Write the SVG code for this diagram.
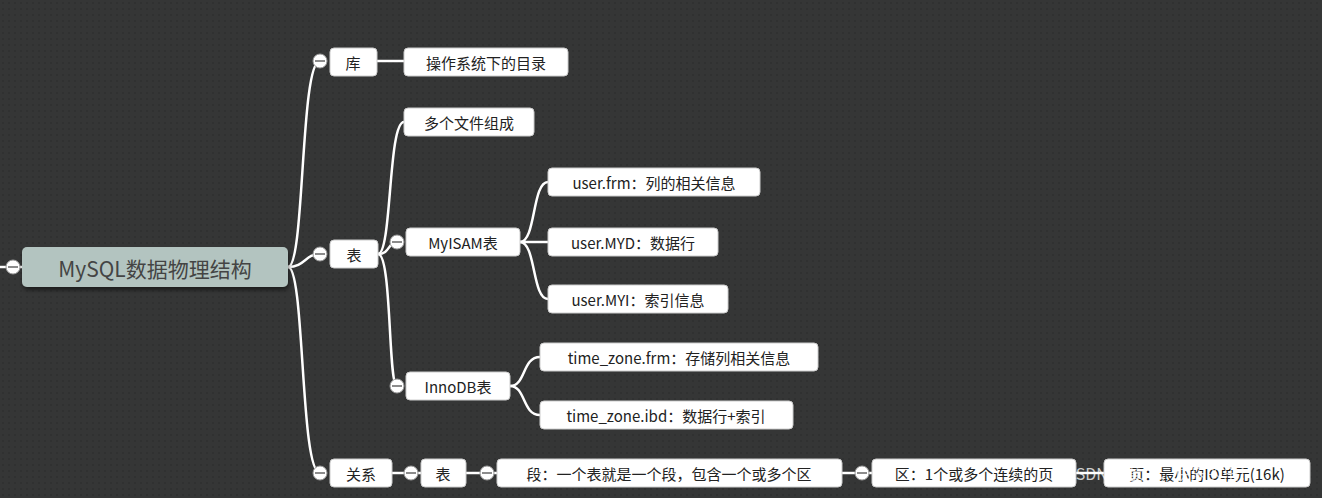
<svg xmlns="http://www.w3.org/2000/svg" width="1322" height="498" viewBox="0 0 1322 498">
<defs>
<pattern id="dots" width="6" height="6" patternUnits="userSpaceOnUse"><rect width="6" height="6" fill="#353636"/><circle cx="3" cy="3" r="0.8" fill="#2a2a2a"/></pattern>
<filter id="sh" x="-10%" y="-20%" width="120%" height="150%"><feDropShadow dx="1" dy="3" stdDeviation="2" flood-color="#000" flood-opacity="0.5"/></filter>
</defs>
<style>
.n{fill:#fff;stroke:#ccc;stroke-width:1}
.t{font-family:"Noto Sans CJK SC","Noto Sans",sans-serif;font-size:15px;fill:#222;dominant-baseline:central}
.c path{fill:none;stroke:#fff;stroke-width:2.5}
.k circle{fill:#fff;stroke:#999;stroke-width:1}
.k line{stroke:#666;stroke-width:1.5}
</style>
<rect width="1322" height="498" fill="url(#dots)"/>
<g class="c">
<path d="M0 267 H22"/>
<path d="M288 267 C305 267 300 61 320 61"/>
<path d="M288 267 C305 267 305 254 320 254"/>
<path d="M288 267 C305 267 300 473 320 473"/>
<path d="M377 61 H404"/>
<path d="M378 254 C392 254 388 122 404 122"/>
<path d="M378 254 C390 254 388 242 397 242"/>
<path d="M378 254 C392 254 388 386 397 386"/>
<path d="M520 242 C536 242 532 182 548 182"/>
<path d="M520 242 H548"/>
<path d="M520 242 C536 242 532 299 548 299"/>
<path d="M510 386 C526 386 522 357 540 357"/>
<path d="M510 386 C526 386 522 415 540 415"/>
<path d="M392 473 H421"/>
<path d="M466 473 H497"/>
<path d="M842 473 H872"/>
<path d="M1076 473 H1104"/>
</g>
<g id="root"><rect x="22" y="247" width="266" height="40" rx="5" fill="#b3c4c0" filter="url(#sh)"/><text x="155" y="268" text-anchor="middle" style="font-family:'Noto Sans CJK SC',sans-serif;font-size:21px;fill:#444;dominant-baseline:central">MySQL数据物理结构</text></g>
<g id="ku"><rect class="n" x="330" y="48" width="47" height="28" rx="4"/><text class="t" x="353" y="62" text-anchor="middle">库</text></g>
<g id="mulu"><rect class="n" x="404" y="48" width="164" height="28" rx="4"/><text class="t" x="486" y="62" text-anchor="middle">操作系统下的目录</text></g>
<g id="biao"><rect class="n" x="330" y="240" width="48" height="28" rx="4"/><text class="t" x="354" y="254" text-anchor="middle">表</text></g>
<g id="duoge"><rect class="n" x="404" y="108" width="130" height="28" rx="4"/><text class="t" x="469" y="122" text-anchor="middle">多个文件组成</text></g>
<g id="myisam"><rect class="n" x="406" y="228" width="114" height="28" rx="4"/><text class="t" x="463" y="242" text-anchor="middle">MyISAM表</text></g>
<g id="frm"><rect class="n" x="548" y="168" width="212" height="28" rx="4"/><text class="t" x="654" y="182" text-anchor="middle">user.frm：列的相关信息</text></g>
<g id="myd"><rect class="n" x="548" y="228" width="170" height="28" rx="4"/><text class="t" x="633" y="242" text-anchor="middle">user.MYD：数据行</text></g>
<g id="myi"><rect class="n" x="548" y="285" width="180" height="28" rx="4"/><text class="t" x="638" y="299" text-anchor="middle">user.MYI：索引信息</text></g>
<g id="innodb"><rect class="n" x="406" y="372" width="104" height="28" rx="4"/><text class="t" x="458" y="386" text-anchor="middle">InnoDB表</text></g>
<g id="tzfrm"><rect class="n" x="540" y="343" width="278" height="28" rx="4"/><text class="t" x="679" y="357" text-anchor="middle">time_zone.frm：存储列相关信息</text></g>
<g id="tzibd"><rect class="n" x="540" y="401" width="253" height="28" rx="4"/><text class="t" x="666" y="415" text-anchor="middle">time_zone.ibd：数据行+索引</text></g>
<g id="guanxi"><rect class="n" x="330" y="459" width="62" height="28" rx="4"/><text class="t" x="361" y="473" text-anchor="middle">关系</text></g>
<g id="biao2"><rect class="n" x="421" y="459" width="45" height="28" rx="4"/><text class="t" x="443" y="473" text-anchor="middle">表</text></g>
<g id="duan"><rect class="n" x="497" y="459" width="345" height="28" rx="4"/><text class="t" x="669" y="473" text-anchor="middle">段：一个表就是一个段，包含一个或多个区</text></g>
<g id="qu"><rect class="n" x="872" y="459" width="204" height="28" rx="4"/><text class="t" x="974" y="473" text-anchor="middle">区：1个或多个连续的页</text></g>
<g id="ye"><rect class="n" x="1104" y="459" width="206" height="28" rx="4"/><text class="t" x="1207" y="473" text-anchor="middle">页：最小的IO单元(16k)</text></g>
<g class="k">
<circle cx="13" cy="267" r="7"/><line x1="8" y1="267" x2="18" y2="267"/>
<circle cx="320" cy="61" r="7"/><line x1="315" y1="61" x2="325" y2="61"/>
<circle cx="320" cy="254" r="7"/><line x1="315" y1="254" x2="325" y2="254"/>
<circle cx="320" cy="473" r="7"/><line x1="315" y1="473" x2="325" y2="473"/>
<circle cx="397" cy="242" r="7"/><line x1="392" y1="242" x2="402" y2="242"/>
<circle cx="397" cy="386" r="7"/><line x1="392" y1="386" x2="402" y2="386"/>
<circle cx="411" cy="473" r="7"/><line x1="406" y1="473" x2="416" y2="473"/>
<circle cx="487" cy="473" r="7"/><line x1="482" y1="473" x2="492" y2="473"/>
<circle cx="862" cy="473" r="7"/><line x1="857" y1="473" x2="867" y2="473"/>
</g>
<text x="1066" y="480" style="font-family:'Noto Sans CJK SC',sans-serif;font-size:16px;fill:#fff;fill-opacity:0.75">CSDN @董乐，快乐的乐！</text>
</svg>
